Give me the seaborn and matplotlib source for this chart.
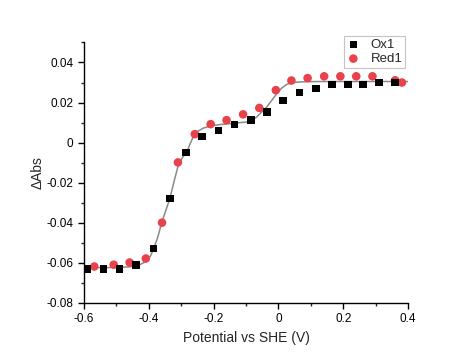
import numpy as np
import pandas as pd
import matplotlib
matplotlib.use("Agg")
import matplotlib.pyplot as plt
from matplotlib.ticker import MultipleLocator
import seaborn as sns

# Ox1 (black squares)
ox_x = [-0.59, -0.54, -0.49, -0.44, -0.385, -0.335, -0.285, -0.235, -0.185, -0.135,
        -0.085, -0.035, 0.015, 0.065, 0.115, 0.165, 0.215, 0.26, 0.31, 0.36]
ox_y = [-0.063, -0.063, -0.063, -0.0612, -0.053, -0.028, -0.005, 0.003, 0.0061, 0.009,
        0.0112, 0.0152, 0.021, 0.0251, 0.0271, 0.0291, 0.0291, 0.0291, 0.030, 0.030]

# Red1 (red circles)
red_x = [-0.568, -0.508, -0.459, -0.409, -0.359, -0.310, -0.258, -0.209, -0.160, -0.109,
         -0.059, -0.008, 0.040, 0.090, 0.141, 0.191, 0.240, 0.290, 0.360, 0.381]
red_y = [-0.0619, -0.061, -0.0599, -0.0579, -0.040, -0.0099, 0.0042, 0.0092, 0.0112, 0.0141,
         0.0173, 0.0262, 0.031, 0.0322, 0.0331, 0.0331, 0.0331, 0.0331, 0.0311, 0.030]

# fitted curve (grey)
fit_x = [-0.60, -0.52, -0.46, -0.43, -0.41, -0.395, -0.385, -0.372, -0.36, -0.348, -0.335,
         -0.322, -0.309, -0.296, -0.283, -0.272, -0.263, -0.25, -0.232, -0.21, -0.18,
         -0.14, -0.098, -0.08, -0.067, -0.052, -0.036, -0.02, -0.005, 0.01, 0.026,
         0.045, 0.067, 0.12, 0.2, 0.3, 0.4]
fit_y = [-0.0625, -0.0624, -0.0621, -0.0612, -0.0595, -0.0568, -0.053, -0.0472, -0.040,
         -0.0342, -0.028, -0.0195, -0.0114, -0.0075, -0.0049, -0.0005, 0.0028, 0.0055,
         0.0072, 0.0083, 0.009, 0.0096, 0.0103, 0.0112, 0.0128, 0.0152, 0.0178, 0.0212,
         0.0245, 0.0272, 0.0291, 0.0300, 0.0303, 0.0305, 0.0305, 0.0305, 0.0305]

sns.set_style("ticks")
plt.rcParams['font.family'] = ['Liberation Sans', 'DejaVu Sans']
plt.rcParams['axes.unicode_minus'] = False

fig = plt.figure(figsize=(4.74, 3.63), dpi=100)
ax = fig.add_axes([0.177, 0.166, 0.684, 0.717])

sns.lineplot(x=fit_x, y=fit_y, ax=ax, color='#8a8a8a', lw=1.1, sort=False, zorder=1)
sns.scatterplot(x=ox_x, y=ox_y, ax=ax, marker='s', s=30, color='black',
                edgecolor='none', label='Ox1', zorder=3)
sns.scatterplot(x=red_x, y=red_y, ax=ax, marker='o', s=38, color='#e8424a',
                edgecolor='none', label='Red1', zorder=2)

ax.set_xlim(-0.6, 0.4)
ax.set_ylim(-0.08, 0.05)
ax.xaxis.set_minor_locator(MultipleLocator(0.1))
ax.yaxis.set_minor_locator(MultipleLocator(0.01))
ax.set_xticks([-0.6, -0.4, -0.2, 0, 0.2, 0.4])
ax.set_xticklabels(['-0.6', '-0.4', '-0.2', '0', '0.2', '0.4'])
ax.set_yticks([-0.08, -0.06, -0.04, -0.02, 0, 0.02, 0.04])
ax.set_yticklabels(['-0.08', '-0.06', '-0.04', '-0.02', '0', '0.02', '0.04'])
ax.tick_params(which='major', direction='out', length=4, width=1, labelsize=8.5, colors='black')
ax.tick_params(which='minor', direction='out', length=2.5, width=1)
for s in ['top', 'right']:
    ax.spines[s].set_visible(False)
for s in ['left', 'bottom']:
    ax.spines[s].set_linewidth(1)
    ax.spines[s].set_color('black')

ax.set_xlabel('Potential vs SHE (V)', fontsize=10)
ax.set_ylabel('ΔAbs', fontsize=10, labelpad=1)

leg = ax.legend(loc='upper right', bbox_to_anchor=(405 / 474, 1 - 36 / 363),
                bbox_transform=fig.transFigure, borderaxespad=0, fontsize=9.5,
                frameon=True, fancybox=False, edgecolor='#c4c4c4', handletextpad=0.8,
                borderpad=0.2, labelspacing=0.15, handlelength=1.0, framealpha=1)
leg.get_frame().set_linewidth(0.8)

fig.savefig('out.png', dpi=100)
